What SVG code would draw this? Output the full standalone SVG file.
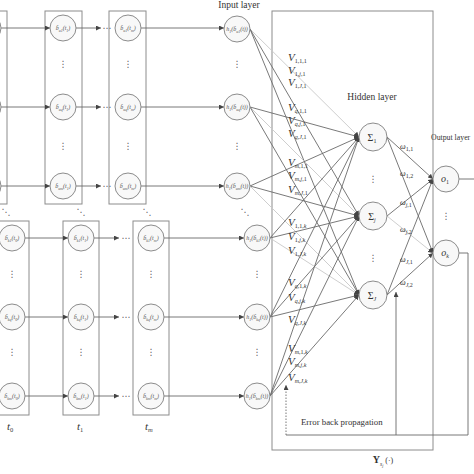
<svg xmlns="http://www.w3.org/2000/svg" width="474" height="474" viewBox="0 0 474 474">
<defs>
<marker id="ah" viewBox="0 0 6 6" refX="6" refY="3" markerWidth="5" markerHeight="5" orient="auto" markerUnits="userSpaceOnUse"><path d="M0,0 L6,3 L0,6 z" fill="#444"/></marker>
<style>
.box{fill:none;stroke:#8c8c8c;stroke-width:1}
.nd{fill:#f8f8f8;stroke:#8c8c8c;stroke-width:1}
.ln{stroke:#6a6a6a;stroke-width:0.9;fill:none}
.lt{stroke:#c8c8c8;stroke-width:0.9;fill:none}
.ar{marker-end:url(#ah)}
.nl{font-family:"Liberation Serif",serif;font-style:italic;font-size:6px;fill:#555;text-anchor:middle}
.sb{font-size:4px}
.dt{font-family:"DejaVu Sans",sans-serif;font-size:9px;fill:#666;text-anchor:middle}
.lab{font-family:"Liberation Serif",serif;font-size:9.5px;fill:#333}
.w{font-family:"Liberation Serif",serif;font-style:italic;font-size:11px;fill:#333}
.ws{font-size:6px;font-style:normal}
.om{font-family:"Liberation Serif",serif;font-style:italic;font-size:8px;fill:#333}
.hl{font-family:"Liberation Serif",serif;font-size:10px;fill:#333;text-anchor:middle}
</style>
</defs>
<rect width="474" height="474" fill="#ffffff"/>

<g id="frames">
<rect id="box-t0-top" class="box" x="-30" y="11" width="37" height="193"/>
<rect id="box-t1-top" class="box" x="45" y="11" width="37" height="193"/>
<rect id="box-tm-top" class="box" x="109" y="11" width="37" height="193"/>
<rect id="box-t0-bot" class="box" x="-10" y="221" width="39" height="194"/>
<rect id="box-t1-bot" class="box" x="63" y="221" width="36" height="194"/>
<rect id="box-tm-bot" class="box" x="133" y="221" width="36" height="194"/>
<rect id="network-box" class="box" x="272" y="11" width="161" height="439"/>
</g>

<g id="connectors">
<line class="ln ar" x1="1" y1="28" x2="50" y2="28"/>
<line class="ln ar" x1="76" y1="28" x2="101" y2="28"/>
<line class="ln ar" x1="141" y1="28" x2="224" y2="28"/>
<line class="ln ar" x1="1" y1="107" x2="50" y2="107"/>
<line class="ln ar" x1="76" y1="107" x2="101" y2="107"/>
<line class="ln ar" x1="141" y1="107" x2="224" y2="107"/>
<line class="ln ar" x1="1" y1="186" x2="50" y2="186"/>
<line class="ln ar" x1="76" y1="186" x2="101" y2="186"/>
<line class="ln ar" x1="141" y1="186" x2="224" y2="186"/>
<line class="ln ar" x1="25" y1="238" x2="68" y2="238"/>
<line class="ln ar" x1="94" y1="238" x2="119" y2="238"/>
<line class="ln ar" x1="164" y1="238" x2="244" y2="238"/>
<line class="ln ar" x1="25" y1="317" x2="68" y2="317"/>
<line class="ln ar" x1="94" y1="317" x2="119" y2="317"/>
<line class="ln ar" x1="164" y1="317" x2="244" y2="317"/>
<line class="ln ar" x1="25" y1="396" x2="68" y2="396"/>
<line class="ln ar" x1="94" y1="396" x2="119" y2="396"/>
<line class="ln ar" x1="164" y1="396" x2="244" y2="396"/>
<line class="lt ar" x1="250" y1="29" x2="359" y2="137"/>
<line class="ln ar" x1="250" y1="29" x2="359" y2="216"/>
<line class="ln ar" x1="250" y1="29" x2="359" y2="295"/>
<line class="ln ar" x1="250" y1="107" x2="359" y2="137"/>
<line class="lt ar" x1="250" y1="107" x2="359" y2="216"/>
<line class="ln ar" x1="250" y1="107" x2="359" y2="295"/>
<line class="ln ar" x1="250" y1="186" x2="359" y2="137"/>
<line class="ln ar" x1="250" y1="186" x2="359" y2="216"/>
<line class="lt ar" x1="250" y1="186" x2="359" y2="295"/>
<line class="ln ar" x1="270" y1="238" x2="359" y2="137"/>
<line class="ln ar" x1="270" y1="238" x2="359" y2="216"/>
<line class="lt ar" x1="270" y1="238" x2="359" y2="295"/>
<line class="ln ar" x1="270" y1="317" x2="359" y2="137"/>
<line class="ln ar" x1="270" y1="317" x2="359" y2="216"/>
<line class="ln ar" x1="270" y1="317" x2="359" y2="295"/>
<line class="ln ar" x1="270" y1="396" x2="359" y2="137"/>
<line class="ln ar" x1="270" y1="396" x2="359" y2="216"/>
<line class="ln ar" x1="270" y1="396" x2="359" y2="295"/>
<line class="ln ar" x1="387" y1="137" x2="433" y2="179"/>
<line class="ln ar" x1="387" y1="137" x2="433" y2="253"/>
<line class="ln ar" x1="387" y1="216" x2="433" y2="179"/>
<line class="lt ar" x1="387" y1="216" x2="433" y2="253"/>
<line class="ln ar" x1="387" y1="295" x2="433" y2="179"/>
<line class="ln ar" x1="387" y1="295" x2="433" y2="253"/>
<line class="ln" x1="459" y1="179" x2="476" y2="179"/>
<polyline class="ln" points="459,253 468,253 468,435 286,435"/>
<line class="ln ar" x1="396" y1="435" x2="396" y2="292"/>
<line class="ln ar" x1="286" y1="435" x2="286" y2="385" stroke-dasharray="1.5,1.5"/>
</g>

<g id="series-nodes">
<g id="n-top-0"><circle class="nd" cx="-12" cy="28" r="13"/><circle class="nd" cx="-12" cy="107" r="13"/><circle class="nd" cx="-12" cy="186" r="13"/></g>
<g id="n-top-1">
<circle class="nd" cx="63" cy="28" r="13"/><text class="nl" x="63" y="30">b̃<tspan class="sb" dy="1.5">u1</tspan><tspan dy="-1.5">(t</tspan><tspan class="sb" dy="1.5">1</tspan><tspan dy="-1.5">)</tspan></text>
<circle class="nd" cx="63" cy="107" r="13"/><text class="nl" x="63" y="109">b̃<tspan class="sb" dy="1.5">uq</tspan><tspan dy="-1.5">(t</tspan><tspan class="sb" dy="1.5">1</tspan><tspan dy="-1.5">)</tspan></text>
<circle class="nd" cx="63" cy="186" r="13"/><text class="nl" x="63" y="188">b̃<tspan class="sb" dy="1.5">um</tspan><tspan dy="-1.5">(t</tspan><tspan class="sb" dy="1.5">1</tspan><tspan dy="-1.5">)</tspan></text>
</g>
<g id="n-top-m">
<circle class="nd" cx="128" cy="28" r="13"/><text class="nl" x="128" y="30">b̃<tspan class="sb" dy="1.5">u1</tspan><tspan dy="-1.5">(t</tspan><tspan class="sb" dy="1.5">m</tspan><tspan dy="-1.5">)</tspan></text>
<circle class="nd" cx="128" cy="107" r="13"/><text class="nl" x="128" y="109">b̃<tspan class="sb" dy="1.5">uq</tspan><tspan dy="-1.5">(t</tspan><tspan class="sb" dy="1.5">m</tspan><tspan dy="-1.5">)</tspan></text>
<circle class="nd" cx="128" cy="186" r="13"/><text class="nl" x="128" y="188">b̃<tspan class="sb" dy="1.5">um</tspan><tspan dy="-1.5">(t</tspan><tspan class="sb" dy="1.5">m</tspan><tspan dy="-1.5">)</tspan></text>
</g>
<g id="n-bot-0">
<circle class="nd" cx="12" cy="238" r="13"/><text class="nl" x="12" y="240">b̃<tspan class="sb" dy="1.5">k1</tspan><tspan dy="-1.5">(t</tspan><tspan class="sb" dy="1.5">0</tspan><tspan dy="-1.5">)</tspan></text>
<circle class="nd" cx="12" cy="317" r="13"/><text class="nl" x="12" y="319">b̃<tspan class="sb" dy="1.5">kq</tspan><tspan dy="-1.5">(t</tspan><tspan class="sb" dy="1.5">0</tspan><tspan dy="-1.5">)</tspan></text>
<circle class="nd" cx="12" cy="396" r="13"/><text class="nl" x="12" y="398">b̃<tspan class="sb" dy="1.5">km</tspan><tspan dy="-1.5">(t</tspan><tspan class="sb" dy="1.5">0</tspan><tspan dy="-1.5">)</tspan></text>
</g>
<g id="n-bot-1">
<circle class="nd" cx="81" cy="238" r="13"/><text class="nl" x="81" y="240">b̃<tspan class="sb" dy="1.5">k1</tspan><tspan dy="-1.5">(t</tspan><tspan class="sb" dy="1.5">1</tspan><tspan dy="-1.5">)</tspan></text>
<circle class="nd" cx="81" cy="317" r="13"/><text class="nl" x="81" y="319">b̃<tspan class="sb" dy="1.5">kq</tspan><tspan dy="-1.5">(t</tspan><tspan class="sb" dy="1.5">1</tspan><tspan dy="-1.5">)</tspan></text>
<circle class="nd" cx="81" cy="396" r="13"/><text class="nl" x="81" y="398">b̃<tspan class="sb" dy="1.5">km</tspan><tspan dy="-1.5">(t</tspan><tspan class="sb" dy="1.5">1</tspan><tspan dy="-1.5">)</tspan></text>
</g>
<g id="n-bot-m">
<circle class="nd" cx="151" cy="238" r="13"/><text class="nl" x="151" y="240">b̃<tspan class="sb" dy="1.5">k1</tspan><tspan dy="-1.5">(t</tspan><tspan class="sb" dy="1.5">m</tspan><tspan dy="-1.5">)</tspan></text>
<circle class="nd" cx="151" cy="317" r="13"/><text class="nl" x="151" y="319">b̃<tspan class="sb" dy="1.5">kq</tspan><tspan dy="-1.5">(t</tspan><tspan class="sb" dy="1.5">m</tspan><tspan dy="-1.5">)</tspan></text>
<circle class="nd" cx="151" cy="396" r="13"/><text class="nl" x="151" y="398">b̃<tspan class="sb" dy="1.5">km</tspan><tspan dy="-1.5">(t</tspan><tspan class="sb" dy="1.5">m</tspan><tspan dy="-1.5">)</tspan></text>
</g>
</g>

<g id="input-layer">
<text class="lab" x="239" y="8" text-anchor="middle">Input layer</text>
<g id="in-1"><circle class="nd" cx="237" cy="29" r="13"/><text class="nl" x="237" y="31">h<tspan class="sb" dy="1.5">1</tspan><tspan dy="-1.5">(b̃</tspan><tspan class="sb" dy="1.5">u1</tspan><tspan dy="-1.5">(t))</tspan></text></g>
<g id="in-2"><circle class="nd" cx="237" cy="107" r="13"/><text class="nl" x="237" y="109">h<tspan class="sb" dy="1.5">1</tspan><tspan dy="-1.5">(b̃</tspan><tspan class="sb" dy="1.5">uq</tspan><tspan dy="-1.5">(t))</tspan></text></g>
<g id="in-3"><circle class="nd" cx="237" cy="186" r="13"/><text class="nl" x="237" y="188">h<tspan class="sb" dy="1.5">1</tspan><tspan dy="-1.5">(b̃</tspan><tspan class="sb" dy="1.5">um</tspan><tspan dy="-1.5">(t))</tspan></text></g>
<g id="in-4"><circle class="nd" cx="257" cy="238" r="13"/><text class="nl" x="257" y="240">h<tspan class="sb" dy="1.5">1</tspan><tspan dy="-1.5">(b̃</tspan><tspan class="sb" dy="1.5">k1</tspan><tspan dy="-1.5">(t))</tspan></text></g>
<g id="in-5"><circle class="nd" cx="257" cy="317" r="13"/><text class="nl" x="257" y="319">h<tspan class="sb" dy="1.5">1</tspan><tspan dy="-1.5">(b̃</tspan><tspan class="sb" dy="1.5">kq</tspan><tspan dy="-1.5">(t))</tspan></text></g>
<g id="in-6"><circle class="nd" cx="257" cy="396" r="13"/><text class="nl" x="257" y="398">h<tspan class="sb" dy="1.5">1</tspan><tspan dy="-1.5">(b̃</tspan><tspan class="sb" dy="1.5">km</tspan><tspan dy="-1.5">(t))</tspan></text></g>
</g>

<g id="dots">
<text class="dt" x="63" y="67">⋮</text><text class="dt" x="128" y="67">⋮</text><text class="dt" x="237" y="67">⋮</text>
<text class="dt" x="63" y="149">⋮</text><text class="dt" x="128" y="149">⋮</text><text class="dt" x="237" y="149">⋮</text>
<text class="dt" x="6" y="215">⋱</text><text class="dt" x="81" y="215">⋱</text><text class="dt" x="147" y="215">⋱</text><text class="dt" x="245" y="215">⋱</text>
<text class="dt" x="12" y="277">⋮</text><text class="dt" x="81" y="277">⋮</text><text class="dt" x="151" y="277">⋮</text><text class="dt" x="257" y="277">⋮</text>
<text class="dt" x="12" y="355">⋮</text><text class="dt" x="81" y="355">⋮</text><text class="dt" x="151" y="355">⋮</text><text class="dt" x="257" y="355">⋮</text>
<text class="dt" x="107" y="31">⋯</text><text class="dt" x="107" y="110">⋯</text><text class="dt" x="107" y="189">⋯</text>
<text class="dt" x="126" y="241">⋯</text><text class="dt" x="126" y="320">⋯</text><text class="dt" x="126" y="399">⋯</text>
<text class="dt" x="373" y="182">⋮</text><text class="dt" x="373" y="261">⋮</text>
<text class="dt" x="446" y="219">⋮</text>
</g>

<g id="time-labels" font-family="Liberation Serif, serif" font-style="italic" font-size="11" fill="#333">
<text x="7" y="430">t<tspan font-size="6.5" dy="2" font-style="normal">0</tspan></text>
<text x="77" y="430">t<tspan font-size="6.5" dy="2" font-style="normal">1</tspan></text>
<text x="145" y="430">t<tspan font-size="6.5" dy="2">m</tspan></text>
</g>

<g id="weights-v">
<text class="w" x="288" y="61">V<tspan class="ws" dy="2">1,1,1</tspan></text>
<text class="w" x="288" y="74">V<tspan class="ws" dy="2">1,<tspan font-style="italic">j</tspan>,1</tspan></text>
<text class="w" x="288" y="86">V<tspan class="ws" dy="2">1,<tspan font-style="italic">J</tspan>,1</tspan></text>
<text class="w" x="288" y="111">V<tspan class="ws" dy="2"><tspan font-style="italic">q</tspan>,1,1</tspan></text>
<text class="w" x="288" y="124">V<tspan class="ws" dy="2"><tspan font-style="italic">q</tspan>,<tspan font-style="italic">j</tspan>,1</tspan></text>
<text class="w" x="288" y="137">V<tspan class="ws" dy="2"><tspan font-style="italic">q</tspan>,<tspan font-style="italic">J</tspan>,1</tspan></text>
<text class="w" x="288" y="166">V<tspan class="ws" dy="2"><tspan font-style="italic">m</tspan>,1,1</tspan></text>
<text class="w" x="288" y="179">V<tspan class="ws" dy="2"><tspan font-style="italic">m</tspan>,<tspan font-style="italic">j</tspan>,1</tspan></text>
<text class="w" x="288" y="193">V<tspan class="ws" dy="2"><tspan font-style="italic">m</tspan>,<tspan font-style="italic">J</tspan>,1</tspan></text>
<text class="w" x="288" y="226">V<tspan class="ws" dy="2">1,1,<tspan font-style="italic">k</tspan></tspan></text>
<text class="w" x="288" y="240">V<tspan class="ws" dy="2">1,<tspan font-style="italic">j</tspan>,<tspan font-style="italic">k</tspan></tspan></text>
<text class="w" x="288" y="254">V<tspan class="ws" dy="2">1,<tspan font-style="italic">J</tspan>,<tspan font-style="italic">k</tspan></tspan></text>
<text class="w" x="288" y="286">V<tspan class="ws" dy="2"><tspan font-style="italic">q</tspan>,1,<tspan font-style="italic">k</tspan></tspan></text>
<text class="w" x="288" y="301">V<tspan class="ws" dy="2"><tspan font-style="italic">q</tspan>,<tspan font-style="italic">j</tspan>,<tspan font-style="italic">k</tspan></tspan></text>
<text class="w" x="288" y="323">V<tspan class="ws" dy="2"><tspan font-style="italic">q</tspan>,<tspan font-style="italic">J</tspan>,<tspan font-style="italic">k</tspan></tspan></text>
<text class="w" x="288" y="352">V<tspan class="ws" dy="2"><tspan font-style="italic">m</tspan>,1,<tspan font-style="italic">k</tspan></tspan></text>
<text class="w" x="288" y="365">V<tspan class="ws" dy="2"><tspan font-style="italic">m</tspan>,<tspan font-style="italic">j</tspan>,<tspan font-style="italic">k</tspan></tspan></text>
<text class="w" x="288" y="381">V<tspan class="ws" dy="2"><tspan font-style="italic">m</tspan>,<tspan font-style="italic">J</tspan>,<tspan font-style="italic">k</tspan></tspan></text>
</g>

<g id="hidden-layer">
<text class="lab" x="372" y="100" text-anchor="middle">Hidden layer</text>
<g id="h-1"><circle class="nd" cx="373" cy="137" r="14"/><text class="hl" x="372" y="141">Σ<tspan font-size="6" dy="2">1</tspan></text></g>
<g id="h-j"><circle class="nd" cx="373" cy="216" r="14"/><text class="hl" x="372" y="220">Σ<tspan font-size="6" dy="2" font-style="italic">j</tspan></text></g>
<g id="h-J"><circle class="nd" cx="373" cy="295" r="14"/><text class="hl" x="372" y="299">Σ<tspan font-size="6" dy="2" font-style="italic">J</tspan></text></g>
</g>

<g id="weights-w">
<text class="om" x="400" y="149">ω<tspan font-size="6" dy="2" font-style="normal">1,1</tspan></text>
<text class="om" x="400" y="176">ω<tspan font-size="6" dy="2" font-style="normal">1,2</tspan></text>
<text class="om" x="400" y="205">ω<tspan font-size="6" dy="2"><tspan font-style="italic">j</tspan><tspan font-style="normal">,1</tspan></tspan></text>
<text class="om" x="400" y="232">ω<tspan font-size="6" dy="2"><tspan font-style="italic">j</tspan><tspan font-style="normal">,2</tspan></tspan></text>
<text class="om" x="400" y="262">ω<tspan font-size="6" dy="2"><tspan font-style="italic">J</tspan><tspan font-style="normal">,1</tspan></tspan></text>
<text class="om" x="400" y="285">ω<tspan font-size="6" dy="2"><tspan font-style="italic">J</tspan><tspan font-style="normal">,2</tspan></tspan></text>
</g>

<g id="output-layer">
<text class="lab" x="431" y="140" style="font-size:7.8px">Output layer</text>
<g id="o-1"><circle class="nd" cx="446" cy="179" r="13"/><text class="hl" x="445" y="182" font-style="italic">o<tspan font-size="6" dy="2" font-style="normal">1</tspan></text></g>
<g id="o-k"><circle class="nd" cx="446" cy="253" r="13"/><text class="hl" x="445" y="256" font-style="italic">o<tspan font-size="6" dy="2">k</tspan></text></g>
</g>

<g id="feedback-labels">
<text class="lab" x="301" y="425" style="font-size:8.8px">Error back propagation</text>
<text x="383" y="463" text-anchor="middle" font-family="Liberation Serif, serif" font-size="10" font-weight="bold" fill="#333">Υ<tspan font-size="5.5" dy="2.5" font-style="italic" font-weight="normal">s</tspan><tspan font-size="4" dy="1.5" font-style="italic" font-weight="normal">j</tspan><tspan font-weight="normal" font-size="8" dy="-4"> (·)</tspan></text>
</g>
</svg>
